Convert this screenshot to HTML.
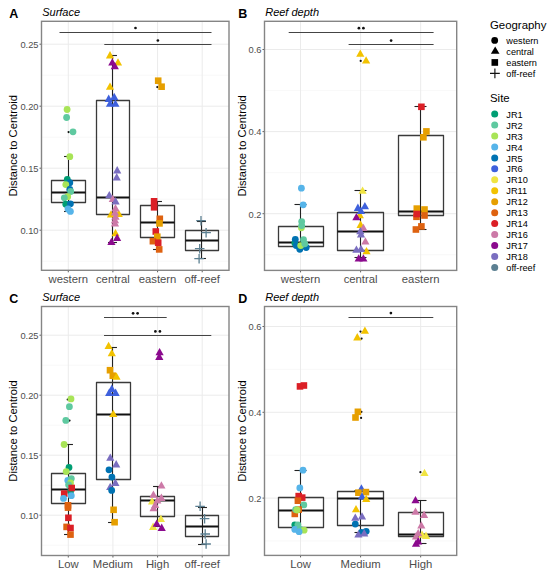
<!DOCTYPE html><html><head><meta charset="utf-8"><style>html,body{margin:0;padding:0;background:#fff;}body{width:550px;height:580px;overflow:hidden;position:relative;font-family:"Liberation Sans",sans-serif;}</style></head><body><svg width="550" height="580" viewBox="0 0 550 580" style="position:absolute;left:0;top:0;font-family:'Liberation Sans', sans-serif"><rect width="550" height="580" fill="#fff"/><line x1="41.5" x2="229.0" y1="261.20" y2="261.20" stroke="#F4F4F4" stroke-width="0.6"/><line x1="41.5" x2="229.0" y1="199.20" y2="199.20" stroke="#F4F4F4" stroke-width="0.6"/><line x1="41.5" x2="229.0" y1="137.20" y2="137.20" stroke="#F4F4F4" stroke-width="0.6"/><line x1="41.5" x2="229.0" y1="75.20" y2="75.20" stroke="#F4F4F4" stroke-width="0.6"/><line x1="41.5" x2="229.0" y1="230.20" y2="230.20" stroke="#EBEBEB" stroke-width="1"/><line x1="41.5" x2="229.0" y1="168.20" y2="168.20" stroke="#EBEBEB" stroke-width="1"/><line x1="41.5" x2="229.0" y1="106.20" y2="106.20" stroke="#EBEBEB" stroke-width="1"/><line x1="41.5" x2="229.0" y1="44.20" y2="44.20" stroke="#EBEBEB" stroke-width="1"/><line x1="68.29" x2="68.29" y1="21.3" y2="270.3" stroke="#EBEBEB" stroke-width="1"/><line x1="112.93" x2="112.93" y1="21.3" y2="270.3" stroke="#EBEBEB" stroke-width="1"/><line x1="157.57" x2="157.57" y1="21.3" y2="270.3" stroke="#EBEBEB" stroke-width="1"/><line x1="202.21" x2="202.21" y1="21.3" y2="270.3" stroke="#EBEBEB" stroke-width="1"/><text x="9.200000000000003" y="18.1" font-size="12.5" text-anchor="start" fill="#000" font-weight="bold">A</text><line x1="39.5" x2="41.5" y1="230.20" y2="230.20" stroke="#333" stroke-width="0.8"/><text x="38.5" y="234.0" font-size="9.3" text-anchor="end" fill="#4D4D4D" >0.10</text><line x1="39.5" x2="41.5" y1="168.20" y2="168.20" stroke="#333" stroke-width="0.8"/><text x="38.5" y="172.0" font-size="9.3" text-anchor="end" fill="#4D4D4D" >0.15</text><line x1="39.5" x2="41.5" y1="106.20" y2="106.20" stroke="#333" stroke-width="0.8"/><text x="38.5" y="109.99999999999999" font-size="9.3" text-anchor="end" fill="#4D4D4D" >0.20</text><line x1="39.5" x2="41.5" y1="44.20" y2="44.20" stroke="#333" stroke-width="0.8"/><text x="38.5" y="48.0" font-size="9.3" text-anchor="end" fill="#4D4D4D" >0.25</text><line x1="68.29" x2="68.29" y1="270.3" y2="272.3" stroke="#333" stroke-width="0.8"/><text x="68.29" y="282.6" font-size="11.3" text-anchor="middle" fill="#4D4D4D" >western</text><line x1="112.93" x2="112.93" y1="270.3" y2="272.3" stroke="#333" stroke-width="0.8"/><text x="112.93" y="282.6" font-size="11.3" text-anchor="middle" fill="#4D4D4D" >central</text><line x1="157.57" x2="157.57" y1="270.3" y2="272.3" stroke="#333" stroke-width="0.8"/><text x="157.57" y="282.6" font-size="11.3" text-anchor="middle" fill="#4D4D4D" >eastern</text><line x1="202.21" x2="202.21" y1="270.3" y2="272.3" stroke="#333" stroke-width="0.8"/><text x="202.21" y="282.6" font-size="11.3" text-anchor="middle" fill="#4D4D4D" >off-reef</text><text x="0" y="0" font-size="11.2" text-anchor="middle" fill="#000" transform="translate(17.4,145.80) rotate(-90)">Distance to Centroid</text><text x="42.2" y="15.5" font-size="11" text-anchor="start" fill="#000" font-style="italic">Surface</text><line x1="59.5" x2="211.5" y1="32.5" y2="32.5" stroke="#444" stroke-width="1"/><circle cx="135.50" cy="28" r="1.35" fill="#111"/><line x1="104.3" x2="211.5" y1="44.5" y2="44.5" stroke="#444" stroke-width="1"/><circle cx="157.90" cy="40.5" r="1.35" fill="#111"/><line x1="68.5" x2="68.5" y1="156.5" y2="211.5" stroke="#222" stroke-width="1.1"/><line x1="64.04" x2="72.96" y1="156.5" y2="156.5" stroke="#222" stroke-width="1.1"/><line x1="64.04" x2="72.96" y1="211.5" y2="211.5" stroke="#222" stroke-width="1.1"/><rect x="51.5" y="180.5" width="34.00" height="22.00" fill="none" stroke="#3a3a3a" stroke-width="1.3" stroke-linejoin="round"/><line x1="51.5" x2="85.5" y1="192.5" y2="192.5" stroke="#111" stroke-width="2.1"/><circle cx="68.6" cy="132.1" r="1.1" fill="#111"/><circle cx="67.1" cy="109.5" r="3.4" fill="#A8E457"/><circle cx="66.6" cy="117.5" r="3.4" fill="#5FC9A0"/><circle cx="73" cy="131.8" r="3.4" fill="#5FC9A0"/><circle cx="69.8" cy="156.7" r="3.4" fill="#A8E457"/><circle cx="67.3" cy="179.4" r="3.4" fill="#009E73"/><circle cx="69.8" cy="182.7" r="3.4" fill="#0072B2"/><circle cx="65.8" cy="184.6" r="3.4" fill="#A8E457"/><circle cx="69.8" cy="189.4" r="3.4" fill="#0072B2"/><circle cx="70.7" cy="191.5" r="3.4" fill="#5FC9A0"/><circle cx="67.7" cy="196.7" r="3.4" fill="#A8E457"/><circle cx="64.3" cy="197.8" r="3.4" fill="#5FC9A0"/><circle cx="65.8" cy="204.2" r="3.4" fill="#009E73"/><circle cx="70.4" cy="203.8" r="3.4" fill="#0072B2"/><circle cx="68" cy="209" r="3.4" fill="#56B4E9"/><circle cx="70.4" cy="211.4" r="3.4" fill="#56B4E9"/><line x1="112.5" x2="112.5" y1="55.5" y2="242.5" stroke="#222" stroke-width="1.1"/><line x1="108.04" x2="116.96" y1="55.5" y2="55.5" stroke="#222" stroke-width="1.1"/><line x1="108.04" x2="116.96" y1="242.5" y2="242.5" stroke="#222" stroke-width="1.1"/><rect x="96.5" y="100.5" width="33.00" height="114.00" fill="none" stroke="#3a3a3a" stroke-width="1.3" stroke-linejoin="round"/><line x1="96.5" x2="129.5" y1="197.5" y2="197.5" stroke="#111" stroke-width="2.1"/><path d="M110.00 51.09L114.10 58.39L105.90 58.39Z" fill="#F2C200"/><path d="M118.00 58.28L122.10 65.58L113.90 65.58Z" fill="#F2C200"/><path d="M112.30 58.28L116.40 65.58L108.20 65.58Z" fill="#8B0A8E"/><path d="M114.80 61.98L118.90 69.28L110.70 69.28Z" fill="#8B0A8E"/><path d="M110.00 82.48L114.10 89.78L105.90 89.78Z" fill="#F2C200"/><path d="M108.70 94.58L112.80 101.88L104.60 101.88Z" fill="#3E60DC"/><path d="M114.20 92.78L118.30 100.08L110.10 100.08Z" fill="#3E60DC"/><path d="M110.00 99.39L114.10 106.69L105.90 106.69Z" fill="#3E60DC"/><path d="M115.40 99.39L119.50 106.69L111.30 106.69Z" fill="#3E60DC"/><path d="M117.20 166.08L121.30 173.38L113.10 173.38Z" fill="#7A6EC0"/><path d="M116.70 173.08L120.80 180.38L112.60 180.38Z" fill="#7A6EC0"/><path d="M109.30 190.88L113.40 198.19L105.20 198.19Z" fill="#7A6EC0"/><path d="M112.80 194.79L116.90 202.09L108.70 202.09Z" fill="#CC79A7"/><path d="M115.60 197.08L119.70 204.38L111.50 204.38Z" fill="#7A6EC0"/><path d="M111.00 210.29L115.10 217.59L106.90 217.59Z" fill="#F2C200"/><path d="M118.70 209.58L122.80 216.88L114.60 216.88Z" fill="#F2C200"/><path d="M115.50 204.08L119.60 211.38L111.40 211.38Z" fill="#CC79A7"/><path d="M115.00 208.19L119.10 215.48L110.90 215.48Z" fill="#CC79A7"/><path d="M115.50 212.38L119.60 219.69L111.40 219.69Z" fill="#CC79A7"/><path d="M115.00 215.99L119.10 223.28L110.90 223.28Z" fill="#CC79A7"/><path d="M115.00 219.08L119.10 226.38L110.90 226.38Z" fill="#CC79A7"/><path d="M115.50 228.88L119.60 236.19L111.40 236.19Z" fill="#F2C200"/><path d="M117.10 233.58L121.20 240.88L113.00 240.88Z" fill="#8B0A8E"/><path d="M111.40 237.69L115.50 244.98L107.30 244.98Z" fill="#8B0A8E"/><line x1="157.5" x2="157.5" y1="201.5" y2="249.5" stroke="#222" stroke-width="1.1"/><line x1="153.04" x2="161.96" y1="201.5" y2="201.5" stroke="#222" stroke-width="1.1"/><line x1="153.04" x2="161.96" y1="249.5" y2="249.5" stroke="#222" stroke-width="1.1"/><rect x="140.5" y="205.5" width="34.00" height="32.00" fill="none" stroke="#3a3a3a" stroke-width="1.3" stroke-linejoin="round"/><line x1="140.5" x2="174.5" y1="222.5" y2="222.5" stroke="#111" stroke-width="2.1"/><circle cx="157.3" cy="87.1" r="1.1" fill="#111"/><rect x="154.90" y="77.40" width="6.6" height="6.6" fill="#E69F00"/><rect x="158.30" y="83.40" width="6.6" height="6.6" fill="#E69F00"/><rect x="150.80" y="198.00" width="6.6" height="6.6" fill="#DB1F26"/><rect x="150.80" y="204.00" width="6.6" height="6.6" fill="#DB1F26"/><rect x="156.50" y="215.50" width="6.6" height="6.6" fill="#DE6210"/><rect x="156.20" y="220.10" width="6.6" height="6.6" fill="#E69F00"/><rect x="152.50" y="228.20" width="6.6" height="6.6" fill="#DB1F26"/><rect x="154.00" y="233.40" width="6.6" height="6.6" fill="#E69F00"/><rect x="149.60" y="237.90" width="6.6" height="6.6" fill="#DE6210"/><rect x="154.90" y="239.40" width="6.6" height="6.6" fill="#DB1F26"/><rect x="155.90" y="246.10" width="6.6" height="6.6" fill="#DE6210"/><line x1="201.5" x2="201.5" y1="221.5" y2="258.5" stroke="#222" stroke-width="1.1"/><line x1="197.04" x2="205.96" y1="221.5" y2="221.5" stroke="#222" stroke-width="1.1"/><line x1="197.04" x2="205.96" y1="258.5" y2="258.5" stroke="#222" stroke-width="1.1"/><rect x="185.5" y="230.5" width="33.00" height="20.00" fill="none" stroke="#3a3a3a" stroke-width="1.3" stroke-linejoin="round"/><line x1="185.5" x2="218.5" y1="240.5" y2="240.5" stroke="#111" stroke-width="2.1"/><path d="M196.20 220.7H205.80M201 215.90V225.50" stroke="#5C8092" stroke-width="1.3" fill="none"/><path d="M201.30 232.7H210.90M206.1 227.90V237.50" stroke="#5C8092" stroke-width="1.3" fill="none"/><path d="M194.90 248.7H204.50M199.7 243.90V253.50" stroke="#5C8092" stroke-width="1.3" fill="none"/><path d="M194.30 258.7H203.90M199.1 253.90V263.50" stroke="#5C8092" stroke-width="1.3" fill="none"/><rect x="41.5" y="21.3" width="187.50" height="249.00" fill="none" stroke="#858585" stroke-width="1.4"/><line x1="264.5" x2="456.7" y1="254.75" y2="254.75" stroke="#F4F4F4" stroke-width="0.6"/><line x1="264.5" x2="456.7" y1="172.65" y2="172.65" stroke="#F4F4F4" stroke-width="0.6"/><line x1="264.5" x2="456.7" y1="90.55" y2="90.55" stroke="#F4F4F4" stroke-width="0.6"/><line x1="264.5" x2="456.7" y1="213.70" y2="213.70" stroke="#EBEBEB" stroke-width="1"/><line x1="264.5" x2="456.7" y1="131.60" y2="131.60" stroke="#EBEBEB" stroke-width="1"/><line x1="264.5" x2="456.7" y1="49.50" y2="49.50" stroke="#EBEBEB" stroke-width="1"/><line x1="300.54" x2="300.54" y1="21.3" y2="270.4" stroke="#EBEBEB" stroke-width="1"/><line x1="360.60" x2="360.60" y1="21.3" y2="270.4" stroke="#EBEBEB" stroke-width="1"/><line x1="420.66" x2="420.66" y1="21.3" y2="270.4" stroke="#EBEBEB" stroke-width="1"/><text x="238.2" y="18.1" font-size="12.5" text-anchor="start" fill="#000" font-weight="bold">B</text><line x1="262.5" x2="264.5" y1="213.70" y2="213.70" stroke="#333" stroke-width="0.8"/><text x="261.5" y="217.5" font-size="9.3" text-anchor="end" fill="#4D4D4D" >0.2</text><line x1="262.5" x2="264.5" y1="131.60" y2="131.60" stroke="#333" stroke-width="0.8"/><text x="261.5" y="135.39999999999998" font-size="9.3" text-anchor="end" fill="#4D4D4D" >0.4</text><line x1="262.5" x2="264.5" y1="49.50" y2="49.50" stroke="#333" stroke-width="0.8"/><text x="261.5" y="53.3" font-size="9.3" text-anchor="end" fill="#4D4D4D" >0.6</text><line x1="300.54" x2="300.54" y1="270.4" y2="272.4" stroke="#333" stroke-width="0.8"/><text x="300.54" y="282.6" font-size="11.3" text-anchor="middle" fill="#4D4D4D" >western</text><line x1="360.60" x2="360.60" y1="270.4" y2="272.4" stroke="#333" stroke-width="0.8"/><text x="360.60" y="282.6" font-size="11.3" text-anchor="middle" fill="#4D4D4D" >central</text><line x1="420.66" x2="420.66" y1="270.4" y2="272.4" stroke="#333" stroke-width="0.8"/><text x="420.66" y="282.6" font-size="11.3" text-anchor="middle" fill="#4D4D4D" >eastern</text><text x="0" y="0" font-size="11.2" text-anchor="middle" fill="#000" transform="translate(246.0,145.85) rotate(-90)">Distance to Centroid</text><text x="265.2" y="15.5" font-size="11" text-anchor="start" fill="#000" font-style="italic">Reef depth</text><line x1="288.7" x2="433.6" y1="32.5" y2="32.5" stroke="#444" stroke-width="1"/><circle cx="358.90" cy="28.2" r="1.35" fill="#111"/><circle cx="363.40" cy="28.2" r="1.35" fill="#111"/><line x1="348.6" x2="433.6" y1="44.5" y2="44.5" stroke="#444" stroke-width="1"/><circle cx="391.10" cy="40.6" r="1.35" fill="#111"/><line x1="300.5" x2="300.5" y1="204.5" y2="246.5" stroke="#222" stroke-width="1.1"/><line x1="294.49" x2="306.51" y1="204.5" y2="204.5" stroke="#222" stroke-width="1.1"/><line x1="294.49" x2="306.51" y1="246.5" y2="246.5" stroke="#222" stroke-width="1.1"/><rect x="278.5" y="226.5" width="45.00" height="20.00" fill="none" stroke="#3a3a3a" stroke-width="1.3" stroke-linejoin="round"/><line x1="278.5" x2="323.5" y1="242.5" y2="242.5" stroke="#111" stroke-width="2.1"/><circle cx="301.4" cy="188.2" r="3.4" fill="#56B4E9"/><circle cx="303.2" cy="204.8" r="3.4" fill="#56B4E9"/><circle cx="301.4" cy="227.8" r="3.4" fill="#A8E457"/><circle cx="301.7" cy="221.6" r="3.4" fill="#5FC9A0"/><circle cx="301.7" cy="225.6" r="3.4" fill="#5FC9A0"/><circle cx="294.8" cy="242.9" r="3.4" fill="#009E73"/><circle cx="295.3" cy="239.3" r="3.4" fill="#0072B2"/><circle cx="296.2" cy="245.6" r="3.4" fill="#0072B2"/><circle cx="299.8" cy="249.3" r="3.4" fill="#0072B2"/><circle cx="306.2" cy="247.5" r="3.4" fill="#0072B2"/><circle cx="300.7" cy="245.6" r="3.4" fill="#A8E457"/><circle cx="303.5" cy="239.7" r="3.4" fill="#5FC9A0"/><circle cx="304.8" cy="243.8" r="3.4" fill="#5FC9A0"/><line x1="360.5" x2="360.5" y1="190.5" y2="257.5" stroke="#222" stroke-width="1.1"/><line x1="354.49" x2="366.51" y1="190.5" y2="190.5" stroke="#222" stroke-width="1.1"/><line x1="354.49" x2="366.51" y1="257.5" y2="257.5" stroke="#222" stroke-width="1.1"/><rect x="337.5" y="212.5" width="46.00" height="38.00" fill="none" stroke="#3a3a3a" stroke-width="1.3" stroke-linejoin="round"/><line x1="337.5" x2="383.5" y1="231.5" y2="231.5" stroke="#111" stroke-width="2.1"/><circle cx="360.7" cy="60.9" r="1.1" fill="#111"/><path d="M360.30 49.48L364.40 56.78L356.20 56.78Z" fill="#F2C200"/><path d="M366.10 56.28L370.20 63.58L362.00 63.58Z" fill="#F2C200"/><path d="M362.60 186.49L366.70 193.78L358.50 193.78Z" fill="#F0E442"/><path d="M359.80 210.99L363.90 218.28L355.70 218.28Z" fill="#F2C200"/><path d="M357.90 203.58L362.00 210.88L353.80 210.88Z" fill="#3E60DC"/><path d="M364.90 201.99L369.00 209.28L360.80 209.28Z" fill="#3E60DC"/><path d="M361.00 206.69L365.10 213.98L356.90 213.98Z" fill="#3E60DC"/><path d="M356.40 212.99L360.50 220.28L352.30 220.28Z" fill="#8B0A8E"/><path d="M360.60 220.58L364.70 227.88L356.50 227.88Z" fill="#F2C200"/><path d="M363.40 223.69L367.50 230.98L359.30 230.98Z" fill="#CC79A7"/><path d="M360.30 226.99L364.40 234.28L356.20 234.28Z" fill="#7A6EC0"/><path d="M361.00 230.19L365.10 237.48L356.90 237.48Z" fill="#7A6EC0"/><path d="M365.40 237.29L369.50 244.59L361.30 244.59Z" fill="#CC79A7"/><path d="M366.50 246.99L370.60 254.28L362.40 254.28Z" fill="#F2C200"/><path d="M356.40 245.49L360.50 252.78L352.30 252.78Z" fill="#7A6EC0"/><path d="M361.00 244.69L365.10 251.98L356.90 251.98Z" fill="#7A6EC0"/><path d="M358.70 254.19L362.80 261.49L354.60 261.49Z" fill="#8B0A8E"/><path d="M363.40 254.19L367.50 261.49L359.30 261.49Z" fill="#8B0A8E"/><line x1="420.5" x2="420.5" y1="106.5" y2="229.5" stroke="#222" stroke-width="1.1"/><line x1="414.49" x2="426.51" y1="106.5" y2="106.5" stroke="#222" stroke-width="1.1"/><line x1="414.49" x2="426.51" y1="229.5" y2="229.5" stroke="#222" stroke-width="1.1"/><rect x="398.5" y="135.5" width="45.00" height="80.00" fill="none" stroke="#3a3a3a" stroke-width="1.3" stroke-linejoin="round"/><line x1="398.5" x2="443.5" y1="211.5" y2="211.5" stroke="#111" stroke-width="2.1"/><rect x="418.10" y="103.50" width="6.6" height="6.6" fill="#DB1F26"/><rect x="423.10" y="128.10" width="6.6" height="6.6" fill="#E69F00"/><rect x="420.10" y="134.00" width="6.6" height="6.6" fill="#E69F00"/><rect x="413.50" y="205.30" width="6.6" height="6.6" fill="#E69F00"/><rect x="421.20" y="206.20" width="6.6" height="6.6" fill="#E69F00"/><rect x="413.20" y="213.50" width="6.6" height="6.6" fill="#DE6210"/><rect x="413.50" y="210.70" width="6.6" height="6.6" fill="#DB1F26"/><rect x="421.20" y="212.20" width="6.6" height="6.6" fill="#DE6210"/><rect x="418.10" y="223.10" width="6.6" height="6.6" fill="#DE6210"/><rect x="412.60" y="226.20" width="6.6" height="6.6" fill="#DE6210"/><rect x="264.5" y="21.3" width="192.20" height="249.10" fill="none" stroke="#858585" stroke-width="1.4"/><line x1="41.5" x2="229.0" y1="545.20" y2="545.20" stroke="#F4F4F4" stroke-width="0.6"/><line x1="41.5" x2="229.0" y1="485.20" y2="485.20" stroke="#F4F4F4" stroke-width="0.6"/><line x1="41.5" x2="229.0" y1="425.20" y2="425.20" stroke="#F4F4F4" stroke-width="0.6"/><line x1="41.5" x2="229.0" y1="365.20" y2="365.20" stroke="#F4F4F4" stroke-width="0.6"/><line x1="41.5" x2="229.0" y1="515.20" y2="515.20" stroke="#EBEBEB" stroke-width="1"/><line x1="41.5" x2="229.0" y1="455.20" y2="455.20" stroke="#EBEBEB" stroke-width="1"/><line x1="41.5" x2="229.0" y1="395.20" y2="395.20" stroke="#EBEBEB" stroke-width="1"/><line x1="41.5" x2="229.0" y1="335.20" y2="335.20" stroke="#EBEBEB" stroke-width="1"/><line x1="68.29" x2="68.29" y1="306.5" y2="555.5" stroke="#EBEBEB" stroke-width="1"/><line x1="112.93" x2="112.93" y1="306.5" y2="555.5" stroke="#EBEBEB" stroke-width="1"/><line x1="157.57" x2="157.57" y1="306.5" y2="555.5" stroke="#EBEBEB" stroke-width="1"/><line x1="202.21" x2="202.21" y1="306.5" y2="555.5" stroke="#EBEBEB" stroke-width="1"/><text x="9.200000000000003" y="303.3" font-size="12.5" text-anchor="start" fill="#000" font-weight="bold">C</text><line x1="39.5" x2="41.5" y1="515.20" y2="515.20" stroke="#333" stroke-width="0.8"/><text x="38.5" y="519.0" font-size="9.3" text-anchor="end" fill="#4D4D4D" >0.10</text><line x1="39.5" x2="41.5" y1="455.20" y2="455.20" stroke="#333" stroke-width="0.8"/><text x="38.5" y="459.0" font-size="9.3" text-anchor="end" fill="#4D4D4D" >0.15</text><line x1="39.5" x2="41.5" y1="395.20" y2="395.20" stroke="#333" stroke-width="0.8"/><text x="38.5" y="399.0" font-size="9.3" text-anchor="end" fill="#4D4D4D" >0.20</text><line x1="39.5" x2="41.5" y1="335.20" y2="335.20" stroke="#333" stroke-width="0.8"/><text x="38.5" y="339.0" font-size="9.3" text-anchor="end" fill="#4D4D4D" >0.25</text><line x1="68.29" x2="68.29" y1="555.5" y2="557.5" stroke="#333" stroke-width="0.8"/><text x="68.29" y="567.7" font-size="11.3" text-anchor="middle" fill="#4D4D4D" >Low</text><line x1="112.93" x2="112.93" y1="555.5" y2="557.5" stroke="#333" stroke-width="0.8"/><text x="112.93" y="567.7" font-size="11.3" text-anchor="middle" fill="#4D4D4D" >Medium</text><line x1="157.57" x2="157.57" y1="555.5" y2="557.5" stroke="#333" stroke-width="0.8"/><text x="157.57" y="567.7" font-size="11.3" text-anchor="middle" fill="#4D4D4D" >High</text><line x1="202.21" x2="202.21" y1="555.5" y2="557.5" stroke="#333" stroke-width="0.8"/><text x="202.21" y="567.7" font-size="11.3" text-anchor="middle" fill="#4D4D4D" >off-reef</text><text x="0" y="0" font-size="11.2" text-anchor="middle" fill="#000" transform="translate(17.4,431.00) rotate(-90)">Distance to Centroid</text><text x="42.2" y="300.5" font-size="11" text-anchor="start" fill="#000" font-style="italic">Surface</text><line x1="104.0" x2="166.7" y1="317.5" y2="317.5" stroke="#444" stroke-width="1"/><circle cx="133.10" cy="313.3" r="1.35" fill="#111"/><circle cx="137.60" cy="313.3" r="1.35" fill="#111"/><line x1="104.0" x2="211.3" y1="335.5" y2="335.5" stroke="#444" stroke-width="1"/><circle cx="155.40" cy="331.4" r="1.35" fill="#111"/><circle cx="159.90" cy="331.4" r="1.35" fill="#111"/><line x1="68.5" x2="68.5" y1="444.5" y2="534.5" stroke="#222" stroke-width="1.1"/><line x1="64.04" x2="72.96" y1="444.5" y2="444.5" stroke="#222" stroke-width="1.1"/><line x1="64.04" x2="72.96" y1="534.5" y2="534.5" stroke="#222" stroke-width="1.1"/><rect x="51.5" y="473.5" width="34.00" height="30.00" fill="none" stroke="#3a3a3a" stroke-width="1.3" stroke-linejoin="round"/><line x1="51.5" x2="85.5" y1="489.5" y2="489.5" stroke="#111" stroke-width="2.1"/><circle cx="67.7" cy="399.5" r="1.1" fill="#111"/><circle cx="69.5" cy="420.6" r="1.1" fill="#111"/><circle cx="71" cy="398.9" r="3.4" fill="#A8E457"/><circle cx="69.4" cy="406.7" r="3.4" fill="#5FC9A0"/><circle cx="65.8" cy="420.4" r="3.4" fill="#5FC9A0"/><circle cx="64.1" cy="444.5" r="3.4" fill="#A8E457"/><circle cx="69" cy="467.4" r="3.4" fill="#009E73"/><circle cx="66.2" cy="471.6" r="3.4" fill="#A8E457"/><circle cx="67.8" cy="480.5" r="3.4" fill="#56B4E9"/><circle cx="71.3" cy="478.6" r="3.4" fill="#5FC9A0"/><circle cx="70.5" cy="482.9" r="3.4" fill="#A8E457"/><circle cx="68.6" cy="484.8" r="3.4" fill="#5FC9A0"/><circle cx="70.5" cy="491.5" r="3.4" fill="#009E73"/><rect x="68.40" y="484.70" width="6.6" height="6.6" fill="#DB1F26"/><rect x="60.90" y="490.30" width="6.6" height="6.6" fill="#DB1F26"/><circle cx="71.3" cy="495.7" r="3.4" fill="#56B4E9"/><circle cx="63.5" cy="498.4" r="3.4" fill="#56B4E9"/><rect x="64.70" y="502.00" width="6.6" height="6.6" fill="#DE6210"/><rect x="64.70" y="504.30" width="6.6" height="6.6" fill="#DE6210"/><rect x="65.10" y="514.50" width="6.6" height="6.6" fill="#DB1F26"/><rect x="63.30" y="523.60" width="6.6" height="6.6" fill="#DE6210"/><rect x="67.20" y="524.70" width="6.6" height="6.6" fill="#DB1F26"/><rect x="67.20" y="531.30" width="6.6" height="6.6" fill="#DE6210"/><line x1="112.5" x2="112.5" y1="347.5" y2="522.5" stroke="#222" stroke-width="1.1"/><line x1="108.04" x2="116.96" y1="347.5" y2="347.5" stroke="#222" stroke-width="1.1"/><line x1="108.04" x2="116.96" y1="522.5" y2="522.5" stroke="#222" stroke-width="1.1"/><rect x="96.5" y="382.5" width="34.00" height="97.00" fill="none" stroke="#3a3a3a" stroke-width="1.3" stroke-linejoin="round"/><line x1="96.5" x2="130.5" y1="414.5" y2="414.5" stroke="#111" stroke-width="2.1"/><path d="M108.60 341.79L112.70 349.09L104.50 349.09Z" fill="#F2C200"/><path d="M111.80 348.99L115.90 356.29L107.70 356.29Z" fill="#F2C200"/><rect x="106.70" y="366.90" width="6.6" height="6.6" fill="#E69F00"/><rect x="109.50" y="372.40" width="6.6" height="6.6" fill="#E69F00"/><path d="M116.50 372.38L120.60 379.69L112.40 379.69Z" fill="#F2C200"/><path d="M111.80 384.59L115.90 391.89L107.70 391.89Z" fill="#3E60DC"/><path d="M109.20 388.59L113.30 395.89L105.10 395.89Z" fill="#3E60DC"/><path d="M115.60 388.59L119.70 395.89L111.50 395.89Z" fill="#3E60DC"/><path d="M113.30 409.79L117.40 417.09L109.20 417.09Z" fill="#F2C200"/><path d="M110.30 453.38L114.40 460.69L106.20 460.69Z" fill="#7A6EC0"/><path d="M116.20 460.09L120.30 467.39L112.10 467.39Z" fill="#7A6EC0"/><circle cx="109" cy="469.8" r="3.4" fill="#0072B2"/><circle cx="111.9" cy="477.1" r="3.4" fill="#0072B2"/><path d="M115.40 478.59L119.50 485.89L111.30 485.89Z" fill="#7A6EC0"/><path d="M110.20 482.69L114.30 489.99L106.10 489.99Z" fill="#7A6EC0"/><circle cx="111.7" cy="490.4" r="3.4" fill="#0072B2"/><rect x="110.30" y="506.50" width="6.6" height="6.6" fill="#E69F00"/><rect x="111.30" y="518.90" width="6.6" height="6.6" fill="#E69F00"/><line x1="157.5" x2="157.5" y1="486.5" y2="526.5" stroke="#222" stroke-width="1.1"/><line x1="153.04" x2="161.96" y1="486.5" y2="486.5" stroke="#222" stroke-width="1.1"/><line x1="153.04" x2="161.96" y1="526.5" y2="526.5" stroke="#222" stroke-width="1.1"/><rect x="140.5" y="496.5" width="34.00" height="20.00" fill="none" stroke="#3a3a3a" stroke-width="1.3" stroke-linejoin="round"/><line x1="140.5" x2="174.5" y1="500.5" y2="500.5" stroke="#111" stroke-width="2.1"/><path d="M159.60 347.88L163.70 355.19L155.50 355.19Z" fill="#8B0A8E"/><path d="M159.30 352.59L163.40 359.89L155.20 359.89Z" fill="#8B0A8E"/><path d="M152.10 497.19L156.20 504.49L148.00 504.49Z" fill="#F0E442"/><path d="M161.40 481.19L165.50 488.49L157.30 488.49Z" fill="#CC79A7"/><path d="M153.40 490.49L157.50 497.79L149.30 497.79Z" fill="#CC79A7"/><path d="M161.40 493.59L165.50 500.89L157.30 500.89Z" fill="#CC79A7"/><path d="M157.30 496.19L161.40 503.49L153.20 503.49Z" fill="#CC79A7"/><path d="M155.20 500.79L159.30 508.09L151.10 508.09Z" fill="#CC79A7"/><path d="M153.60 503.99L157.70 511.29L149.50 511.29Z" fill="#CC79A7"/><path d="M160.90 514.78L165.00 522.08L156.80 522.08Z" fill="#F0E442"/><path d="M153.10 522.59L157.20 529.88L149.00 529.88Z" fill="#F0E442"/><path d="M156.70 519.49L160.80 526.78L152.60 526.78Z" fill="#8B0A8E"/><path d="M161.70 523.59L165.80 530.88L157.60 530.88Z" fill="#8B0A8E"/><line x1="202.5" x2="202.5" y1="507.5" y2="544.5" stroke="#222" stroke-width="1.1"/><line x1="198.04" x2="206.96" y1="507.5" y2="507.5" stroke="#222" stroke-width="1.1"/><line x1="198.04" x2="206.96" y1="544.5" y2="544.5" stroke="#222" stroke-width="1.1"/><rect x="185.5" y="515.5" width="33.00" height="21.00" fill="none" stroke="#3a3a3a" stroke-width="1.3" stroke-linejoin="round"/><line x1="185.5" x2="218.5" y1="526.5" y2="526.5" stroke="#111" stroke-width="2.1"/><path d="M195.30 506.3H204.90M200.1 501.50V511.10" stroke="#5C8092" stroke-width="1.3" fill="none"/><path d="M199.80 518.7H209.40M204.6 513.90V523.50" stroke="#5C8092" stroke-width="1.3" fill="none"/><path d="M200.40 534H210.00M205.2 529.20V538.80" stroke="#5C8092" stroke-width="1.3" fill="none"/><path d="M201.30 544H210.90M206.1 539.20V548.80" stroke="#5C8092" stroke-width="1.3" fill="none"/><rect x="41.5" y="306.5" width="187.50" height="249.00" fill="none" stroke="#858585" stroke-width="1.4"/><line x1="264.5" x2="456.7" y1="541.00" y2="541.00" stroke="#F4F4F4" stroke-width="0.6"/><line x1="264.5" x2="456.7" y1="455.20" y2="455.20" stroke="#F4F4F4" stroke-width="0.6"/><line x1="264.5" x2="456.7" y1="369.40" y2="369.40" stroke="#F4F4F4" stroke-width="0.6"/><line x1="264.5" x2="456.7" y1="498.10" y2="498.10" stroke="#EBEBEB" stroke-width="1"/><line x1="264.5" x2="456.7" y1="412.30" y2="412.30" stroke="#EBEBEB" stroke-width="1"/><line x1="264.5" x2="456.7" y1="326.50" y2="326.50" stroke="#EBEBEB" stroke-width="1"/><line x1="300.54" x2="300.54" y1="306.5" y2="555.4" stroke="#EBEBEB" stroke-width="1"/><line x1="360.60" x2="360.60" y1="306.5" y2="555.4" stroke="#EBEBEB" stroke-width="1"/><line x1="420.66" x2="420.66" y1="306.5" y2="555.4" stroke="#EBEBEB" stroke-width="1"/><text x="238.2" y="303.3" font-size="12.5" text-anchor="start" fill="#000" font-weight="bold">D</text><line x1="262.5" x2="264.5" y1="498.10" y2="498.10" stroke="#333" stroke-width="0.8"/><text x="261.5" y="501.90000000000003" font-size="9.3" text-anchor="end" fill="#4D4D4D" >0.2</text><line x1="262.5" x2="264.5" y1="412.30" y2="412.30" stroke="#333" stroke-width="0.8"/><text x="261.5" y="416.09999999999997" font-size="9.3" text-anchor="end" fill="#4D4D4D" >0.4</text><line x1="262.5" x2="264.5" y1="326.50" y2="326.50" stroke="#333" stroke-width="0.8"/><text x="261.5" y="330.3" font-size="9.3" text-anchor="end" fill="#4D4D4D" >0.6</text><line x1="300.54" x2="300.54" y1="555.4" y2="557.4" stroke="#333" stroke-width="0.8"/><text x="300.54" y="567.7" font-size="11.3" text-anchor="middle" fill="#4D4D4D" >Low</text><line x1="360.60" x2="360.60" y1="555.4" y2="557.4" stroke="#333" stroke-width="0.8"/><text x="360.60" y="567.7" font-size="11.3" text-anchor="middle" fill="#4D4D4D" >Medium</text><line x1="420.66" x2="420.66" y1="555.4" y2="557.4" stroke="#333" stroke-width="0.8"/><text x="420.66" y="567.7" font-size="11.3" text-anchor="middle" fill="#4D4D4D" >High</text><text x="0" y="0" font-size="11.2" text-anchor="middle" fill="#000" transform="translate(246.0,430.95) rotate(-90)">Distance to Centroid</text><text x="265.2" y="300.5" font-size="11" text-anchor="start" fill="#000" font-style="italic">Reef depth</text><line x1="348.5" x2="433.3" y1="317.5" y2="317.5" stroke="#444" stroke-width="1"/><circle cx="390.90" cy="313.1" r="1.35" fill="#111"/><line x1="300.5" x2="300.5" y1="470.5" y2="530.5" stroke="#222" stroke-width="1.1"/><line x1="294.49" x2="306.51" y1="470.5" y2="470.5" stroke="#222" stroke-width="1.1"/><line x1="294.49" x2="306.51" y1="530.5" y2="530.5" stroke="#222" stroke-width="1.1"/><rect x="278.5" y="497.5" width="45.00" height="30.00" fill="none" stroke="#3a3a3a" stroke-width="1.3" stroke-linejoin="round"/><line x1="278.5" x2="323.5" y1="510.5" y2="510.5" stroke="#111" stroke-width="2.1"/><rect x="296.70" y="383.10" width="6.6" height="6.6" fill="#DB1F26"/><rect x="300.60" y="382.20" width="6.6" height="6.6" fill="#DB1F26"/><circle cx="303" cy="470.2" r="3.4" fill="#56B4E9"/><circle cx="299.8" cy="487.9" r="3.4" fill="#56B4E9"/><rect x="295.40" y="492.80" width="6.6" height="6.6" fill="#DB1F26"/><rect x="298.90" y="494.30" width="6.6" height="6.6" fill="#DB1F26"/><rect x="294.60" y="497.40" width="6.6" height="6.6" fill="#DE6210"/><circle cx="303.8" cy="504.9" r="3.4" fill="#5FC9A0"/><rect x="295.40" y="506.30" width="6.6" height="6.6" fill="#DE6210"/><rect x="291.50" y="510.60" width="6.6" height="6.6" fill="#DE6210"/><circle cx="295.6" cy="509.6" r="3.4" fill="#5FC9A0"/><circle cx="297.1" cy="510" r="3.4" fill="#A8E457"/><circle cx="294.8" cy="524.8" r="3.4" fill="#009E73"/><circle cx="297.9" cy="524.8" r="3.4" fill="#5FC9A0"/><circle cx="294.8" cy="529.4" r="3.4" fill="#56B4E9"/><circle cx="300.2" cy="529.4" r="3.4" fill="#5FC9A0"/><circle cx="304.1" cy="530.2" r="3.4" fill="#A8E457"/><circle cx="299.1" cy="531.7" r="3.4" fill="#56B4E9"/><line x1="360.5" x2="360.5" y1="490.5" y2="532.5" stroke="#222" stroke-width="1.1"/><line x1="354.49" x2="366.51" y1="490.5" y2="490.5" stroke="#222" stroke-width="1.1"/><line x1="354.49" x2="366.51" y1="532.5" y2="532.5" stroke="#222" stroke-width="1.1"/><rect x="337.5" y="491.5" width="46.00" height="34.00" fill="none" stroke="#3a3a3a" stroke-width="1.3" stroke-linejoin="round"/><line x1="337.5" x2="383.5" y1="498.5" y2="498.5" stroke="#111" stroke-width="2.1"/><circle cx="360.5" cy="331.6" r="1.1" fill="#111"/><circle cx="361.6" cy="338.6" r="1.1" fill="#111"/><circle cx="361.4" cy="411.8" r="1.1" fill="#111"/><circle cx="361.1" cy="417.9" r="1.1" fill="#111"/><path d="M364.90 326.49L369.00 333.79L360.80 333.79Z" fill="#F2C200"/><path d="M357.30 333.09L361.40 340.39L353.20 340.39Z" fill="#F2C200"/><rect x="354.60" y="408.50" width="6.6" height="6.6" fill="#E69F00"/><rect x="352.20" y="414.20" width="6.6" height="6.6" fill="#E69F00"/><path d="M361.40 484.29L365.50 491.59L357.30 491.59Z" fill="#3E60DC"/><rect x="355.10" y="489.40" width="6.6" height="6.6" fill="#E69F00"/><rect x="362.60" y="488.80" width="6.6" height="6.6" fill="#E69F00"/><path d="M362.00 492.29L366.10 499.59L357.90 499.59Z" fill="#3E60DC"/><path d="M366.20 494.69L370.30 501.99L362.10 501.99Z" fill="#F2C200"/><path d="M356.00 504.99L360.10 512.28L351.90 512.28Z" fill="#F2C200"/><path d="M355.30 513.38L359.40 520.68L351.20 520.68Z" fill="#7A6EC0"/><path d="M362.00 512.19L366.10 519.49L357.90 519.49Z" fill="#7A6EC0"/><circle cx="355.3" cy="524.1" r="3.4" fill="#0072B2"/><circle cx="366.2" cy="531.3" r="3.4" fill="#0072B2"/><circle cx="361.4" cy="532.5" r="3.4" fill="#0072B2"/><path d="M358.40 530.28L362.50 537.58L354.30 537.58Z" fill="#7A6EC0"/><path d="M364.20 529.09L368.30 536.38L360.10 536.38Z" fill="#7A6EC0"/><line x1="420.5" x2="420.5" y1="500.5" y2="543.5" stroke="#222" stroke-width="1.1"/><line x1="414.49" x2="426.51" y1="500.5" y2="500.5" stroke="#222" stroke-width="1.1"/><line x1="414.49" x2="426.51" y1="543.5" y2="543.5" stroke="#222" stroke-width="1.1"/><rect x="398.5" y="512.5" width="45.00" height="24.00" fill="none" stroke="#3a3a3a" stroke-width="1.3" stroke-linejoin="round"/><line x1="398.5" x2="443.5" y1="534.5" y2="534.5" stroke="#111" stroke-width="2.1"/><circle cx="420.4" cy="472.2" r="1.1" fill="#111"/><path d="M424.50 468.69L428.60 475.99L420.40 475.99Z" fill="#F0E442"/><path d="M415.50 495.99L419.60 503.29L411.40 503.29Z" fill="#8B0A8E"/><path d="M415.50 507.49L419.60 514.78L411.40 514.78Z" fill="#CC79A7"/><path d="M424.10 510.69L428.20 517.99L420.00 517.99Z" fill="#CC79A7"/><path d="M421.30 521.19L425.40 528.49L417.20 528.49Z" fill="#CC79A7"/><path d="M422.10 530.49L426.20 537.78L418.00 537.78Z" fill="#F0E442"/><path d="M426.00 531.59L430.10 538.88L421.90 538.88Z" fill="#F0E442"/><path d="M418.20 528.88L422.30 536.18L414.10 536.18Z" fill="#CC79A7"/><path d="M416.00 532.19L420.10 539.49L411.90 539.49Z" fill="#CC79A7"/><path d="M418.20 537.19L422.30 544.49L414.10 544.49Z" fill="#8B0A8E"/><path d="M416.00 539.38L420.10 546.68L411.90 546.68Z" fill="#8B0A8E"/><rect x="264.5" y="306.5" width="192.20" height="248.90" fill="none" stroke="#858585" stroke-width="1.4"/><text x="490.0" y="28.7" font-size="11.4" text-anchor="start" fill="#000" >Geography</text><circle cx="494.7" cy="40.4" r="3.4" fill="#000"/><path d="M495.2 46.6L499.5 53.7L490.9 53.7Z" fill="#000"/><rect x="491.5" y="59.1" width="6.6" height="6.7" fill="#000"/><path d="M490 73.3H499.8M494.9 68.4V78.2" stroke="#111" stroke-width="1.15"/><text x="506.3" y="44.3" font-size="9.2" text-anchor="start" fill="#000" >western</text><text x="506.3" y="55.15" font-size="9.2" text-anchor="start" fill="#000" >central</text><text x="506.3" y="66.0" font-size="9.2" text-anchor="start" fill="#000" >eastern</text><text x="506.3" y="76.85" font-size="9.2" text-anchor="start" fill="#000" >off-reef</text><text x="490.0" y="101.9" font-size="11.4" text-anchor="start" fill="#000" >Site</text><circle cx="494.7" cy="114.10" r="3.5" fill="#009E73"/><text x="506.3" y="117.70" font-size="9.2" text-anchor="start" fill="#000" >JR1</text><circle cx="494.7" cy="125.05" r="3.5" fill="#5FC9A0"/><text x="506.3" y="128.65" font-size="9.2" text-anchor="start" fill="#000" >JR2</text><circle cx="494.7" cy="136.00" r="3.5" fill="#A8E457"/><text x="506.3" y="139.60" font-size="9.2" text-anchor="start" fill="#000" >JR3</text><circle cx="494.7" cy="146.95" r="3.5" fill="#56B4E9"/><text x="506.3" y="150.55" font-size="9.2" text-anchor="start" fill="#000" >JR4</text><circle cx="494.7" cy="157.90" r="3.5" fill="#0072B2"/><text x="506.3" y="161.50" font-size="9.2" text-anchor="start" fill="#000" >JR5</text><circle cx="494.7" cy="168.85" r="3.5" fill="#3E60DC"/><text x="506.3" y="172.45" font-size="9.2" text-anchor="start" fill="#000" >JR6</text><circle cx="494.7" cy="179.80" r="3.5" fill="#F0E442"/><text x="506.3" y="183.40" font-size="9.2" text-anchor="start" fill="#000" >JR10</text><circle cx="494.7" cy="190.75" r="3.5" fill="#F2C200"/><text x="506.3" y="194.35" font-size="9.2" text-anchor="start" fill="#000" >JR11</text><circle cx="494.7" cy="201.70" r="3.5" fill="#E69F00"/><text x="506.3" y="205.30" font-size="9.2" text-anchor="start" fill="#000" >JR12</text><circle cx="494.7" cy="212.65" r="3.5" fill="#DE6210"/><text x="506.3" y="216.25" font-size="9.2" text-anchor="start" fill="#000" >JR13</text><circle cx="494.7" cy="223.60" r="3.5" fill="#DB1F26"/><text x="506.3" y="227.20" font-size="9.2" text-anchor="start" fill="#000" >JR14</text><circle cx="494.7" cy="234.55" r="3.5" fill="#CC79A7"/><text x="506.3" y="238.15" font-size="9.2" text-anchor="start" fill="#000" >JR16</text><circle cx="494.7" cy="245.50" r="3.5" fill="#8B0A8E"/><text x="506.3" y="249.10" font-size="9.2" text-anchor="start" fill="#000" >JR17</text><circle cx="494.7" cy="256.45" r="3.5" fill="#7A6EC0"/><text x="506.3" y="260.05" font-size="9.2" text-anchor="start" fill="#000" >JR18</text><circle cx="494.7" cy="267.40" r="3.5" fill="#5C8092"/><text x="506.3" y="271.00" font-size="9.2" text-anchor="start" fill="#000" >off-reef</text></svg></body></html>
